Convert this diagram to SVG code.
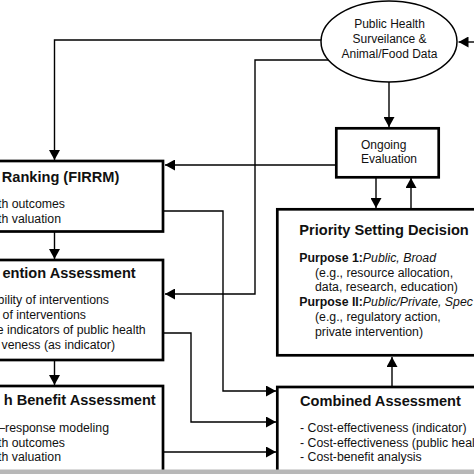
<svg xmlns="http://www.w3.org/2000/svg" width="474" height="474" viewBox="0 0 474 474">
<style>
  .box { fill: #ffffff; stroke: #000000; stroke-width: 2.7; }
  .ell { fill: #ffffff; stroke: #000000; stroke-width: 1.5; }
  .con { fill: none; stroke: #000000; stroke-width: 1.4; }
  text { font-family: "Liberation Sans", Arial, Helvetica, sans-serif; fill: #111111; }
  .title { font-size: 14.6px; font-weight: bold; }
  .body { font-size: 12.3px; }
  .small { font-size: 12px; }
  .b { font-weight: bold; }
  .i { font-style: italic; }
</style>
<defs>
  <marker id="arr" markerUnits="userSpaceOnUse" markerWidth="10" markerHeight="11" refX="10" refY="5.5" orient="auto">
    <path d="M0,0 L10,5.5 L0,11 z" fill="#000000"/>
  </marker>
</defs>
<rect x="0" y="0" width="474" height="474" fill="#ffffff"/>

<g id="connectors">
  <path class="con" d="M321,40 H54.5 V160" marker-end="url(#arr)"/>
  <path class="con" d="M328.5,60 H255 V294 H165" marker-end="url(#arr)"/>
  <path class="con" d="M389,82 V127" marker-end="url(#arr)"/>
  <path class="con" d="M474,42 H458.5" marker-end="url(#arr)"/>
  <path class="con" d="M336,165 H165" marker-end="url(#arr)"/>
  <path class="con" d="M376,177 V208" marker-end="url(#arr)"/>
  <path class="con" d="M411,209 V178" marker-end="url(#arr)"/>
  <path class="con" d="M392,387 V357" marker-end="url(#arr)"/>
  <path class="con" d="M54.5,232 V259" marker-end="url(#arr)"/>
  <path class="con" d="M54.5,360 V385" marker-end="url(#arr)"/>
  <path class="con" d="M163,211 H223 V391 H276" marker-end="url(#arr)"/>
  <path class="con" d="M163,333 H191 V422 H276" marker-end="url(#arr)"/>
  <path class="con" d="M163,452 H276" marker-end="url(#arr)"/>
</g>

<g id="surveillance">
  <ellipse class="ell" cx="389" cy="41.5" rx="68" ry="40.5"/>
  <text class="small" x="389.5" y="28.3" text-anchor="middle">Public Health</text>
  <text class="small" x="389.5" y="43" text-anchor="middle">Surveilance &amp;</text>
  <text class="small" x="389.5" y="57.7" text-anchor="middle">Animal/Food Data</text>
</g>

<g id="ongoing">
  <rect class="box" x="336.3" y="128.3" width="102.4" height="49"/>
  <text class="small" x="361" y="149">Ongoing</text>
  <text class="small" x="361" y="163">Evaluation</text>
</g>

<g id="firrm">
  <rect class="box" x="-10" y="161" width="173" height="70.5"/>
  <text class="title" x="119.3" y="181.5" text-anchor="end">Ranking (FIRRM)</text>
  <text class="body" x="65" y="208" text-anchor="end">th outcomes</text>
  <text class="body" x="61" y="223" text-anchor="end">th valuation</text>
</g>

<g id="intervention">
  <rect class="box" x="-10" y="260" width="173" height="100"/>
  <text class="title" x="135.7" y="278" text-anchor="end">ention Assessment</text>
  <text class="body" x="109" y="304" text-anchor="end">bility of interventions</text>
  <text class="body" x="86" y="319" text-anchor="end">of interventions</text>
  <text class="body" x="145.7" y="334" text-anchor="end">e indicators of public health</text>
  <text class="body" x="115" y="349" text-anchor="end">veness (as indicator)</text>
</g>

<g id="health-benefit">
  <rect class="box" x="-10" y="386" width="173" height="100"/>
  <text class="title" x="155.7" y="405" text-anchor="end">h Benefit Assessment</text>
  <text class="body" x="109" y="432" text-anchor="end">–response modeling</text>
  <text class="body" x="65" y="446.5" text-anchor="end">th outcomes</text>
  <text class="body" x="61" y="461" text-anchor="end">th valuation</text>
</g>

<g id="priority">
  <rect class="box" x="277.3" y="209.3" width="210" height="146"/>
  <text class="title" x="299.3" y="235">Priority Setting Decision</text>
  <text class="body" x="299.3" y="262"><tspan class="b">Purpose 1:</tspan><tspan class="i">Public, Broad</tspan></text>
  <text class="body" x="315" y="276.5">(e.g., resource allocation,</text>
  <text class="body" x="315" y="291">data, research, education)</text>
  <text class="body" x="299.3" y="306"><tspan class="b">Purpose II:</tspan><tspan class="i">Public/Private, Spec</tspan></text>
  <text class="body" x="315" y="321">(e.g., regulatory action,</text>
  <text class="body" x="315" y="335.5">private intervention)</text>
</g>

<g id="combined">
  <rect class="box" x="277.3" y="387" width="210" height="100"/>
  <text class="title" x="300" y="406">Combined Assessment</text>
  <text class="body" x="300" y="432.3">- Cost-effectiveness (indicator)</text>
  <text class="body" x="300" y="446.7">- Cost-effectiveness (public heal</text>
  <text class="body" x="300" y="461">- Cost-benefit analysis</text>
</g>

<rect x="0" y="469.5" width="474" height="4.5" fill="#b8b8b8"/>
</svg>
